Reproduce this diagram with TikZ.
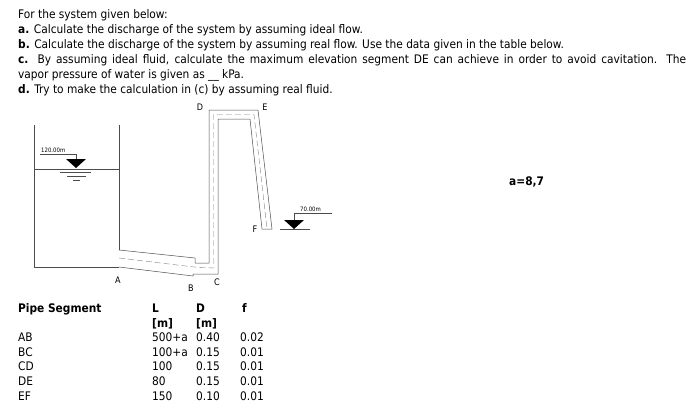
\documentclass[tikz,border=0pt]{standalone}
\usepackage{fontspec}
\setmainfont{DejaVu Sans Condensed}
\begin{document}
\begin{tikzpicture}[x=1pt,y=-1pt,
  txt/.style={anchor=base west,inner sep=0pt,font=\fontsize{11.8}{14.5}\selectfont},
  lab/.style={inner sep=0pt,font=\fontsize{9}{10}\selectfont},
  small/.style={anchor=base west,inner sep=0pt,font=\fontsize{6}{6}\selectfont},
  pipe/.style={draw=black!70,line width=0.5pt},
  axis/.style={draw=black!50,dashed,dash pattern=on 6pt off 3pt,line width=0.4pt}]
\useasboundingbox (0,0) rectangle (700,409);
\node[txt] (t0) at (18,19) {For the system given below:};
\node[txt] (t1) at (18,34) {\textbf{a.} Calculate the discharge of the system by assuming ideal flow.};
\node[txt] (t2) at (18,49) {\textbf{b.} Calculate the discharge of the system by assuming real flow. Use the data given in the table below.};
\node[txt] (t3) at (18,64) {\makebox[668pt][s]{\textbf{c.} By assuming ideal fluid, calculate the maximum elevation segment DE can achieve in order to avoid cavitation. The}};
\node[txt] (t3b) at (18,79) {vapor pressure of water is given as \_\_ kPa.};
\node[txt] (t4) at (18,94) {\textbf{d.} Try to make the calculation in (c) by assuming real fluid.};
% tank
\draw[pipe] (34,125) -- (34,267) -- (119,267);
\draw[pipe] (119,125) -- (119,250);
\draw[pipe] (34,169) -- (119,169);
\draw[pipe] (60,172) -- (91,172) (67,176) -- (86,176) (73,180) -- (80,180);
\fill (66,159) -- (86,159) -- (76,168) -- cycle;
\draw[pipe] (40,154) -- (76,154) -- (76,159);
\node[small] (h1) at (41,152) {120.00m};
% pipe
\draw[pipe] (119,250) -- (195,258) -- (195,263) -- (209,263) -- (209,110) -- (258,110) -- (272,229) -- (262,229) -- (250,119) -- (218,119) -- (218,274) -- (193,274) -- (193,276) -- (119,267);
\draw[axis] (119,258) -- (194,267) -- (213.5,268) -- (213.5,114.5) -- (254,114.5) -- (267,229);
% outlet
\fill (284,220) -- (304,220) -- (294,229) -- cycle;
\draw[pipe] (280,229) -- (310,229);
\draw[pipe] (294,220) -- (294,213) -- (332,213);
\node[small] (h2) at (300,211) {70.00m};
\node[lab] (A) at (118,280) {A};
\node[lab] (B) at (191,288) {B};
\node[lab] (C) at (217,282) {C};
\node[lab] (D) at (200,107) {D};
\node[lab] (E) at (265,107) {E};
\node[lab] (F) at (255,229) {F};
\node[txt,font=\fontsize{11.8}{14}\selectfont\bfseries] (a) at (509,185) {a=8,7};
% table
\begin{scope}[every node/.style={txt}]
\node (h0) at (18,312) {\textbf{Pipe Segment}};
\node (hL) at (152,312) {\textbf{L}};
\node (hD) at (196,312) {\textbf{D}};
\node (hf) at (242,312) {\textbf{f}};
\node (u1) at (152,327) {\textbf{[m]}};
\node (u2) at (196,327) {\textbf{[m]}};
\foreach \s/\l/\d/\f [count=\i] in {AB/500+a/0.40/0.02,BC/100+a/0.15/0.01,CD/100/0.15/0.01,DE/80/0.15/0.01,EF/150/0.10/0.01}{
  \node (s\i) at (18,327+14.6*\i) {\s};
  \node (l\i) at (152,327+14.6*\i) {\l};
  \node (d\i) at (196,327+14.6*\i) {\d};
  \node (f\i) at (240,327+14.6*\i) {\f};
}
\end{scope}
\end{tikzpicture}
\end{document}
